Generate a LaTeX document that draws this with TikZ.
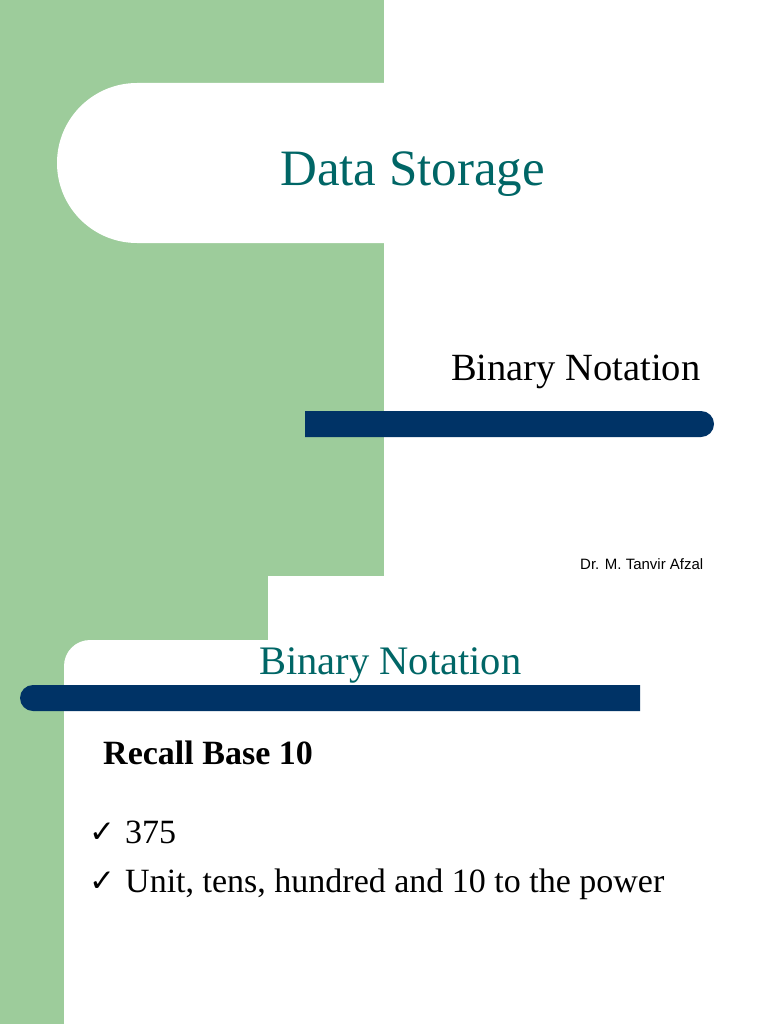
\documentclass[tikz,border=0pt]{standalone}
\usepackage{fontspec}
\setmainfont{Liberation Serif}
\newfontfamily\arialf{Liberation Sans}
\newfontfamily\dejaf{DejaVu Sans}
\definecolor{sgreen}{HTML}{9DCC9B}
\definecolor{snavy}{HTML}{003366}
\definecolor{steal}{HTML}{006666}
\begin{document}
\begin{tikzpicture}[x=1pt,y=-1pt,
  txt/.style={anchor=base west,inner sep=0pt}]
\useasboundingbox (0,0) rectangle (768,1024);
\fill[white] (0,0) rectangle (768,1024);
% green backgrounds
\fill[sgreen] (0,0) rectangle (384,576);
\fill[sgreen] (0,576) rectangle (268,1024);
% top white rounded shape
\fill[white] (384,83) -- (137,83) arc[start angle=-90,end angle=-270,radius=80] -- (384,243) -- cycle;
% lower white
\fill[white] (64,1024) -- (64,666) arc[start angle=180,end angle=270,radius=26] -- (768,640) -- (768,1024) -- cycle;
% bars
\fill[snavy] (305,411) -- (701,411) arc[start angle=-90,end angle=90,radius=13] -- (305,437) -- cycle;
\fill[snavy] (640,685) -- (33,685) arc[start angle=-90,end angle=-270,radius=13] -- (640,711) -- cycle;
% texts
\node[txt,text=steal,font=\fontsize{51}{58}\selectfont] (t1) at (280,186) {Data Storage};
\node[txt,font=\fontsize{38.5}{44}\selectfont] (t2) at (451,380) {Binary Notation};
\node[txt,font=\arialf\fontsize{15}{18}\selectfont] (t3) at (580,569) {Dr. M. Tanvir Afzal};
\node[txt,text=steal,font=\fontsize{40.5}{46}\selectfont] (t4) at (259,674) {Binary Notation};
\node[txt,font=\bfseries\fontsize{34}{40}\selectfont] (t5) at (103,764) {Recall Base 10};
\node[txt,font=\dejaf\fontsize{31}{36}\selectfont] (c1) at (89,842) {✓};
\node[txt,font=\fontsize{34}{40}\selectfont] (b1) at (125,843) {375};
\node[txt,font=\dejaf\fontsize{31}{36}\selectfont] (c2) at (89,891) {✓};
\node[txt,font=\fontsize{34}{40}\selectfont] (b2) at (125,892) {Unit, tens, hundred and 10 to the power};
\end{tikzpicture}
\end{document}
